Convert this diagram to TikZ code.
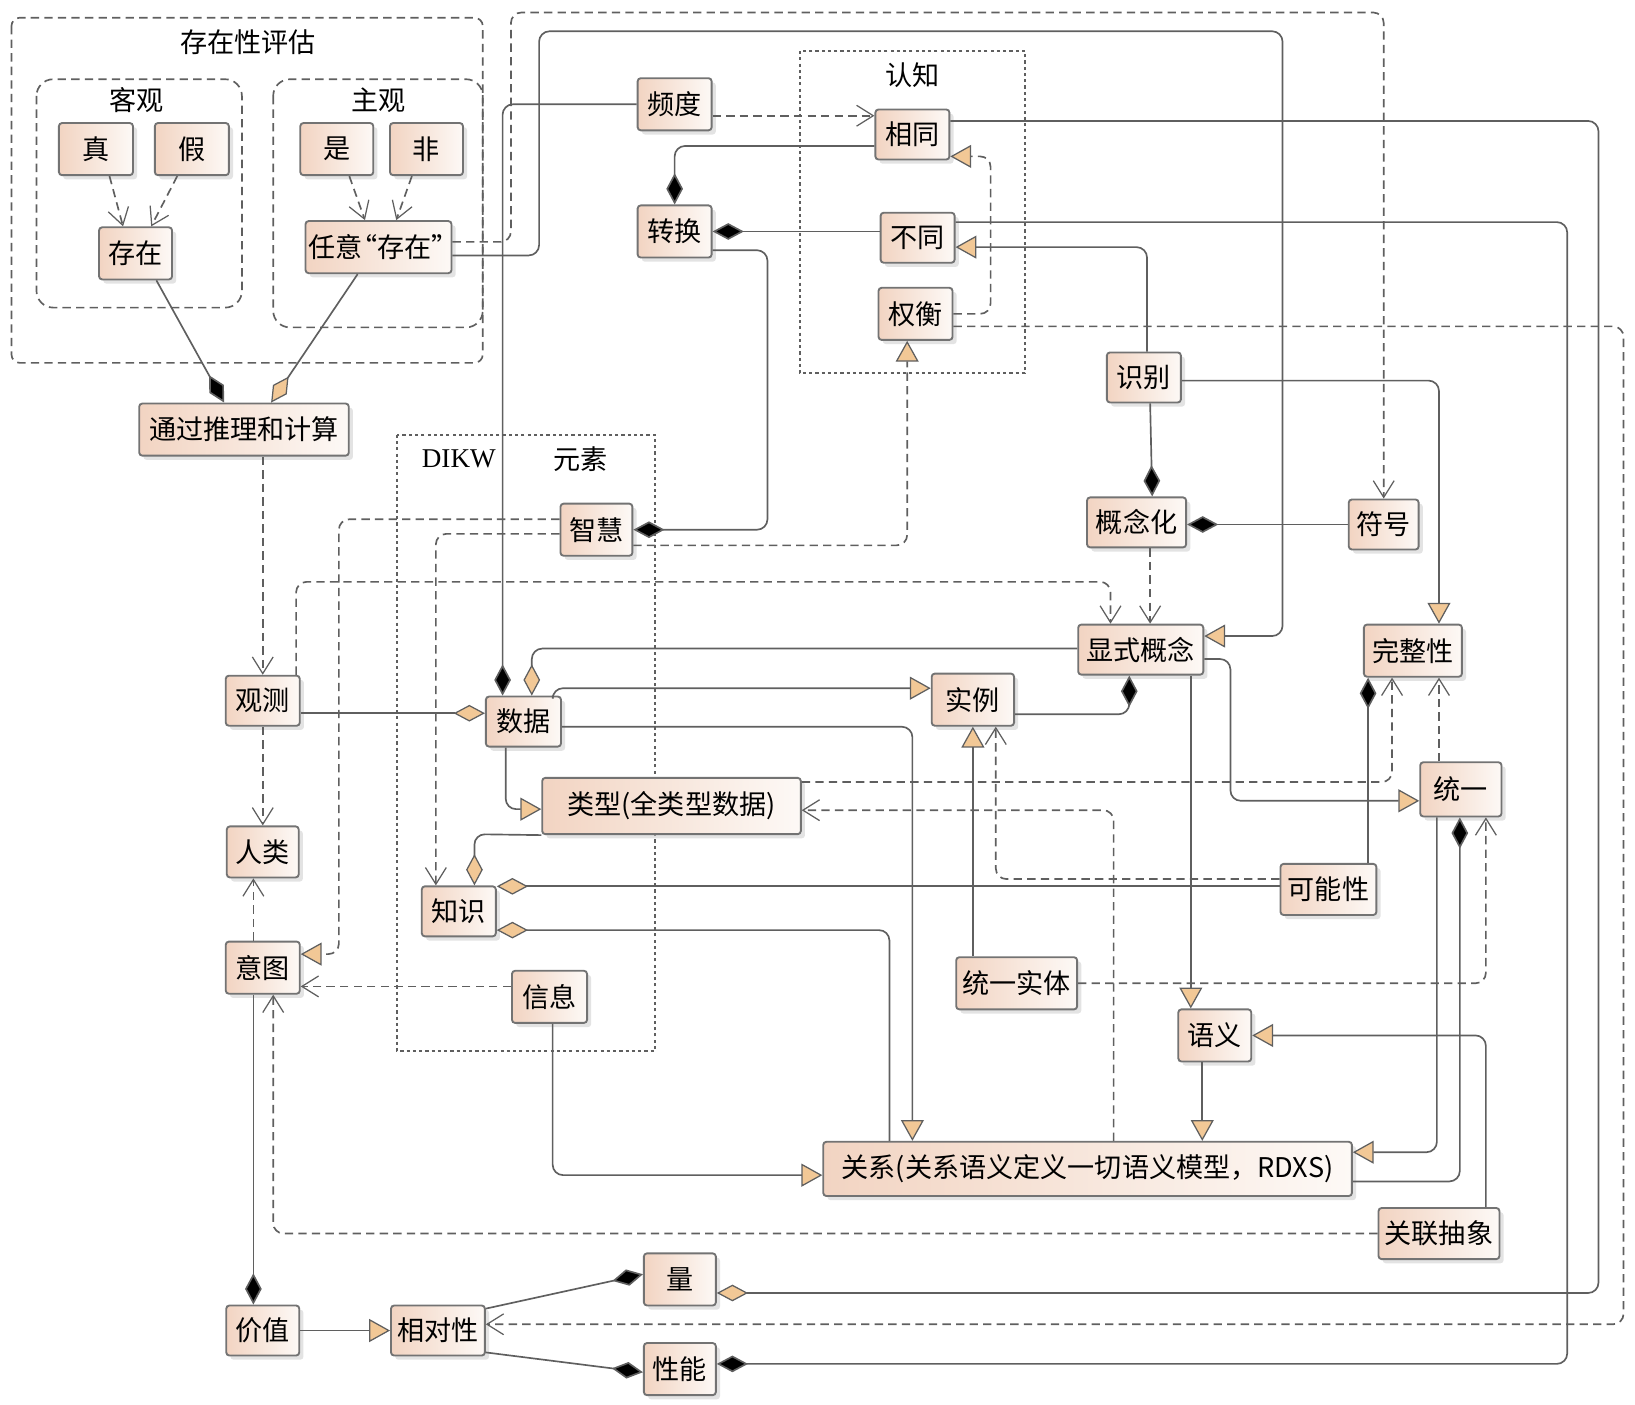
\documentclass[tikz,border=0pt]{standalone}
\usepackage{fontspec}
\setmainfont{Liberation Serif}
\newfontfamily\cjk{Noto Sans CJK SC}
\usetikzlibrary{arrows.meta,shadows,calc}
\definecolor{lc}{RGB}{95,95,95}
\definecolor{bordc}{RGB}{115,115,115}
\definecolor{boxl}{RGB}{242,212,194}
\definecolor{boxr}{RGB}{253,249,246}
\definecolor{tri}{RGB}{242,200,150}
\begin{document}
\begin{tikzpicture}[x=0.5pt,y=-0.5pt,
  box/.style={draw=bordc,line width=0.9pt,left color=boxl,right color=boxr,
    rounded corners=1.5pt,inner sep=0pt,minimum height=25pt,
    drop shadow={shadow xshift=2pt,shadow yshift=-2pt,fill=black!22},
    font=\cjk\fontsize{13pt}{15pt}\selectfont},
  ttl/.style={font=\cjk\fontsize{13pt}{15pt}\selectfont},
  ln/.style={draw=lc,line width=0.8pt,rounded corners=5pt},
  dsh/.style={ln,dash pattern=on 4pt off 2.5pt},
  cont/.style={draw=lc,line width=0.8pt,dash pattern=on 4pt off 2.5pt},
  dotc/.style={draw=lc,line width=0.8pt,dash pattern=on 1.5pt off 1.5pt},
  oa/.style={-{Straight Barb[length=8pt,width=10pt,line width=0.6pt]}},
  triE/.style={-{Triangle[length=10pt,width=11pt,fill=tri,line width=0.6pt]}},
  bdE/.style={-{Diamond[length=15pt,width=8pt,fill=black]}},
  bdS/.style={{Diamond[length=15pt,width=8pt,fill=black]}-},
  wdE/.style={-{Diamond[length=15pt,width=8pt,fill=tri,line width=0.6pt]}},
  wdS/.style={{Diamond[length=15pt,width=8pt,fill=tri,line width=0.6pt]}-}
]
\useasboundingbox (0,0) rectangle (1568,1347);
% containers
\draw[cont,rounded corners=4pt] (11,17) rectangle (463,348);
\draw[cont,rounded corners=8pt] (35,76) rectangle (232,295);
\draw[cont,rounded corners=8pt] (262,76) rectangle (463,314);
\draw[dotc] (767,49) rectangle (983,358);
\draw[dotc] (381,417) rectangle (628,1008);
\node[ttl] (t1) at (238,40) {存在性评估};
\node[ttl] (t2) at (131,96) {客观};
\node[ttl] (t3) at (363,96) {主观};
\node[ttl] (t4) at (875,72) {认知};
\node[ttl,font=\fontsize{13pt}{15pt}\selectfont] (t5) at (440,440) {DIKW};
\node[ttl] (t6) at (557,440) {元素};
% nodes
\node[box,minimum width=35.5pt] (zhen) at (92,143) {真};
\node[box,minimum width=35.5pt] (jia) at (184,143) {假};
\node[box,minimum width=35pt] (cunzai) at (130,243) {存在};
\node[box,minimum width=35pt] (shi) at (323,143) {是};
\node[box,minimum width=35pt] (fei) at (409,143) {非};
\node[box,minimum width=70pt] (renyi) at (363,237) {任意\kern-6pt“存在”\kern-5pt};
\node[box,minimum width=100.5pt] (tongguo) at (234,412) {通过推理和计算};
\node[box,minimum width=35.5pt] (pindu) at (647,100) {频度};
\node[box,minimum width=35.5pt,minimum height=24pt] (xt) at (875,129) {相同};
\node[box,minimum width=35.5pt] (zh) at (647,222) {转换};
\node[box,minimum width=35.5pt,minimum height=24pt] (bt) at (880,228) {不同};
\node[box,minimum width=35.5pt] (qh) at (878,301) {权衡};
\node[box,minimum width=35.5pt,minimum height=24pt] (sb) at (1097,362) {识别};
\node[box,minimum width=47.5pt,minimum height=24pt] (gnh) at (1090,501) {概念化};
\node[box,minimum width=33.5pt,minimum height=24pt] (fh) at (1327,503) {符号};
\node[box,minimum width=34.5pt] (zhh) at (572,508) {智慧};
\node[box,minimum width=60pt,minimum height=24pt] (xs) at (1094,623) {显式概念};
\node[box,minimum width=47pt] (wz) at (1355,624) {完整性};
\node[box,minimum width=35.5pt,minimum height=24pt] (gc) at (252,672) {观测};
\node[box,minimum width=36pt,minimum height=24pt] (sj) at (502,692) {数据};
\node[box,minimum width=39.5pt] (sl) at (933,671) {实例};
\node[box,minimum width=124pt,minimum height=27pt] (lx) at (644,773) {类型(全类型数据)};
\node[box,minimum width=39pt,minimum height=26pt] (ty) at (1401,757) {统一};
\node[box,minimum width=34.5pt,minimum height=24.5pt] (rl) at (252,817) {人类};
\node[box,minimum width=35.5pt,minimum height=24pt] (zs) at (440,874) {知识};
\node[box,minimum width=46pt,minimum height=24.5pt] (knx) at (1274,853) {可能性};
\node[box,minimum width=35.5pt] (yt) at (252,928) {意图};
\node[box,minimum width=36pt] (xx) at (527,956) {信息};
\node[box,minimum width=58pt] (tyst) at (975,943) {统一实体};
\node[box,minimum width=35pt] (yy) at (1165,993) {语义};
\node[box,minimum width=253.5pt,minimum height=26pt] (gx) at (1043,1121) {关系(关系语义定义一切语义模型，RDXS)};
\node[box,minimum width=58pt,minimum height=24.5pt] (gl) at (1380,1183) {关联抽象};
\node[box,minimum width=34.5pt] (liang) at (652,1227) {量};
\node[box,minimum width=35pt,minimum height=24pt] (jz) at (252,1276) {价值};
\node[box,minimum width=45pt,minimum height=24pt] (xdx) at (420,1276) {相对性};
\node[box,minimum width=34.5pt] (xn) at (652,1313) {性能};
% edges
\draw[dsh,oa] (zhen.south -| 105,0) -- (cunzai.north -| 118,0);
\draw[dsh,oa] (jia.south -| 170,0) -- (cunzai.north -| 145,0);
\draw[dsh,oa] (shi.south -| 335,0) -- (renyi.north -| 350,0);
\draw[dsh,oa] (fei.south -| 395,0) -- (renyi.north -| 380,0);
\draw[ln,bdE] (cunzai.south -| 150,0) -- (tongguo.north -| 215,0);
\draw[ln,wdE] (renyi.south -| 343,0) -- (tongguo.north -| 260,0);
\draw[dsh,oa] (tongguo.south -| 252,0) -- (gc.north);
\draw[dsh,oa] (gc.south) -- (rl.north);
\draw[dsh,oa] (yt.north -| 243,0) -- (rl.south -| 243,0);
\draw[dsh,oa] (xx.west |- 0,946) -- (yt.east |- 0,946);
\draw[ln,bdE] (yt.south -| 243,0) -- (jz.north -| 243,0);
\draw[dsh,oa] (gl.west) -- (262,1183) -- (yt.south -| 262,0);
\draw[ln,triE] (jz.east) -- (xdx.west);
\draw[ln,bdE] (xdx.east |- 0,1255) -- (liang.west |- 0,1222);
\draw[ln,bdE] (xdx.east |- 0,1297) -- (xn.west |- 0,1316);
\draw[ln,wdS] (liang.east |- 0,1240) -- (1533,1240) -- (1533,116) -- (xt.east |- 0,116);
\draw[ln,bdS] (xn.east |- 0,1308) -- (1503,1308) -- (1503,213) -- (bt.east |- 0,213);
\draw[dsh,oa] (qh.east |- 0,313) -- (1557,313) -- (1557,1270) -- (xdx.east |- 0,1270);
\draw[dsh,oa] (pindu.east |- 0,111) -- (xt.west |- 0,111);
\draw[ln,bdE] (pindu.west) -- (482,100) -- (sj.north -| 482,0);
\draw[ln,triE] (renyi.east |- 0,245) -- (517,245) -- (517,30) -- (1230,30) -- (1230,610) -- (xs.east |- 0,610);
\draw[dsh,oa] (renyi.east |- 0,232) -- (490,232) -- (490,12) -- (1327,12) -- (fh.north);
\draw[ln,bdE] (xt.west |- 0,140) -- (647,140) -- (zh.north);
\draw[ln,bdE] (bt.west |- 0,222) -- (zh.east |- 0,222);
\draw[dsh,triE] (qh.east |- 0,301) -- (950,301) -- (950,150) -- (xt.east |- 0,150);
\draw[ln,triE] (sb.north -| 1100,0) -- (1100,237) -- (bt.east |- 0,237);
\draw[ln,bdE] (sb.south -| 1103,0) -- (gnh.north -| 1105,0);
\draw[ln,triE] (sb.east |- 0,365) -- (1380,365) -- (wz.north -| 1380,0);
\draw[ln,bdE] (fh.west) -- (gnh.east |- fh.west);
\draw[dsh,oa] (gnh.south -| 1103,0) -- (xs.north -| 1103,0);
\draw[ln,bdE] (zh.east |- 0,240) -- (736,240) -- (736,508) -- (zhh.east);
\draw[dsh,triE] (zhh.east |- 0,523) -- (870,523) -- (qh.south -| 870,0);
\draw[dsh,triE] (zhh.west |- 0,498) -- (325,498) -- (325,915) -- (yt.east |- 0,915);
\draw[dsh,oa] (zhh.west |- 0,512) -- (418,512) -- (zs.north -| 418,0);
\draw[dsh,oa] (gc.north -| 284,0) -- (284,558) -- (1065,558) -- (xs.north -| 1065,0);
\draw[ln,wdE] (gc.east |- 0,684) -- (sj.west |- 0,684);
\draw[ln,wdS] (sj.north -| 510,0) -- (510,622) -- (xs.west |- 0,622);
\draw[ln,triE] (sj.north -| 530,0) -- (530,660) -- (sl.west |- 0,660);
\draw[ln,triE] (sj.east |- 0,697) -- (875,697) -- (gx.north -| 875,0);
\draw[ln,triE] (sj.south -| 485,0) -- (485,776) -- (lx.west |- 0,776);
\draw[ln,wdE] (lx.south west) -- (455,800) -- (zs.north -| 455,0);
\draw[dsh,oa] (lx.east |- 0,750) -- (1335,750) -- (wz.south -| 1335,0);
\draw[dsh,oa] (gx.north -| 1068,0) -- (1068,777) -- (lx.east |- 0,777);
\draw[ln,wdS] (zs.east |- 0,850) -- (knx.west |- 0,850);
\draw[ln,wdS] (zs.east |- 0,892) -- (853,892) -- (gx.north -| 853,0);
\draw[dsh,oa] (knx.west |- 0,843) -- (955,843) -- (sl.south -| 955,0);
\draw[ln,bdE] (knx.north -| 1312,0) -- (wz.south -| 1312,0);
\draw[ln,triE] (tyst.north -| 933,0) -- (sl.south -| 933,0);
\draw[dsh,oa] (tyst.east) -- (1425,943) -- (ty.south -| 1425,0);
\draw[ln,bdE] (sl.east |- 0,685) -- (1083,685) -- (xs.south -| 1083,0);
\draw[ln,triE] (xs.east |- 0,632) -- (1180,632) -- (1180,768) -- (ty.west |- 0,768);
\draw[ln,triE] (xs.south -| 1142,0) -- (yy.north -| 1142,0);
\draw[dsh,oa] (ty.north -| 1380,0) -- (wz.south -| 1380,0);
\draw[ln,triE] (yy.south -| 1153,0) -- (gx.north -| 1153,0);
\draw[ln,triE] (ty.south -| 1378,0) -- (1378,1105) -- (gx.east |- 0,1105);
\draw[ln,bdE] (gx.east |- 0,1133) -- (1400,1133) -- (ty.south -| 1400,0);
\draw[ln,triE] (gl.north -| 1425,0) -- (1425,993) -- (yy.east);
\draw[ln,triE] (xx.south -| 530,0) -- (530,1127) -- (gx.west |- 0,1127);
\end{tikzpicture}
\end{document}
